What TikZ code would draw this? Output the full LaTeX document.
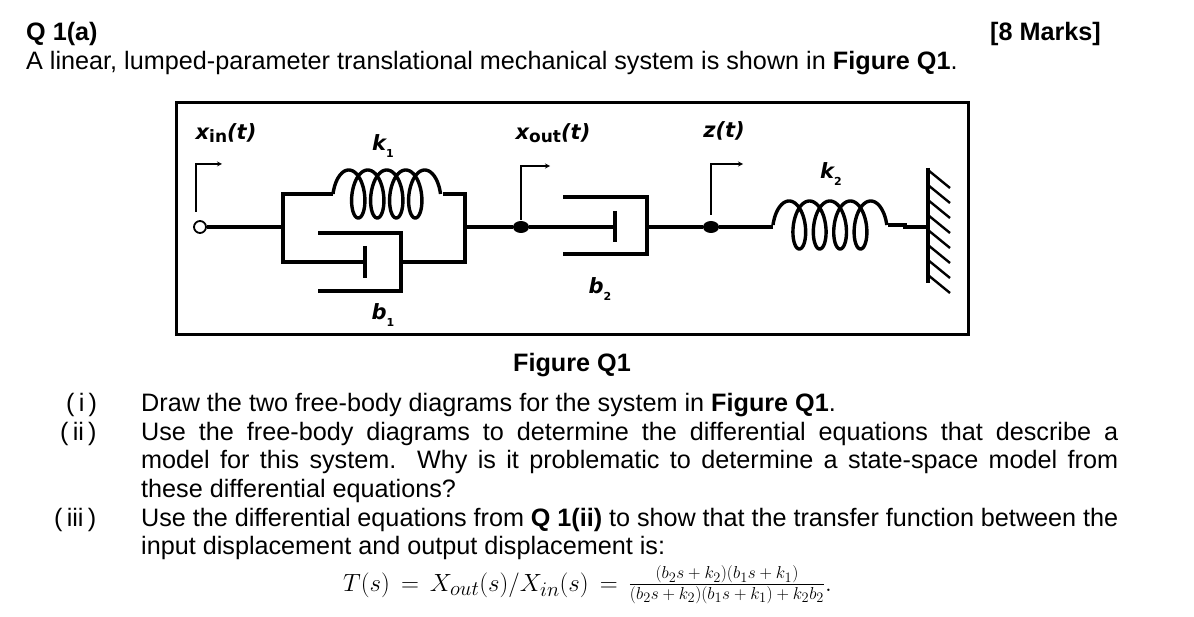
\documentclass[tikz,border=0pt]{standalone}
\usepackage{amsmath}
\usepackage{fontspec}
\usetikzlibrary{shapes.geometric}
\setmainfont{Liberation Sans}
\newfontfamily\lblfont{DejaVu Sans}
\begin{document}
\begin{tikzpicture}[x=1pt,y=-1pt,
  mech/.style={line width=3.4pt},
  thin/.style={line width=1.2pt},
  lbl/.style={font=\lblfont\bfseries\itshape\fontsize{21}{22}\selectfont,inner sep=0},
  txt/.style={font=\fontsize{25.2}{28.5}\selectfont,inner sep=0},
  par/.style={txt,text width=977pt,align=justify,anchor=north west}]
\useasboundingbox (0,0) rectangle (1194,617);
% texts
\node[txt,anchor=base west] (q) at (26,41) {\textbf{Q 1(a)}};
\node[txt,anchor=base east] (m) at (1101,41) {\textbf{[8 Marks]}};
\node[txt,anchor=base west] (intro) at (26,70) {A linear, lumped-parameter translational mechanical system is shown in \textbf{Figure Q1}.};
% box
\draw[line width=3pt] (176,103) rectangle (968,335);
% input
\node[circle,draw,line width=1.8pt,minimum size=12pt,inner sep=0,fill=white] (in) at (200,227) {};
\coordinate (b1L) at (283,227);
\draw[mech] (in) -- (b1L);
\draw[mech] (333,194) -- (283,194) -- (283,262) -- (365,262);
\draw[mech] (365,246) -- (365,278);
\draw[mech] (318,233) -- (401,233) -- (401,291) -- (318,291);
\draw[mech] (401,262) -- (465,262) -- (465,194) -- (443,194);
\draw[mech,line join=round] plot[domain=-90:1530,samples=300,smooth] ({333+11+0.05278*(\x+90)+11*sin(\x)},{194-24*cos(\x)});
\node[ellipse,fill,minimum width=16pt,minimum height=12pt,inner sep=0] (xo) at (521,227) {};
\draw[mech] (465,227) -- (xo) -- (615,227);
\draw[mech] (615,211) -- (615,242);
\draw[mech] (563,197) -- (647,197) -- (647,254) -- (563,254);
\node[ellipse,fill,minimum width=16pt,minimum height=12pt,inner sep=0] (z) at (711,227) {};
\draw[mech] (647,227) -- (z) -- (773,227);
\draw[mech,line join=round] plot[domain=-90:1530,samples=300,smooth] ({773+11+0.05667*(\x+90)+11*sin(\x)},{225-24*cos(\x)});
\draw[mech] (888,225) -- (905,225) -- (905,227) -- (928,227);
\draw[mech] (928,168) -- (928,283);
\foreach \i in {0,...,7} \draw[line width=2.4pt] (928,{170+\i*15}) -- ++(22,18);
% motion arrows
\draw[thin,-stealth] (196,212) -- (196,164) -- (222,164);
\draw[thin,-stealth] (521,220) -- (521,166) -- (550,166);
\draw[thin,-stealth] (711,215) -- (711,164) -- (743,164);
% labels
\node[lbl] (lxin) at (226,133) {x\raisebox{-3pt}{\upshape\fontsize{17}{17}\selectfont in}(t)};
\node[lbl] (lk1) at (383,146) {k\raisebox{-7pt}{\upshape\fontsize{11}{11}\selectfont 1}};
\node[lbl] (lxo) at (553,133) {x\raisebox{-3pt}{\upshape\fontsize{17}{17}\selectfont out}(t)};
\node[lbl] (lz) at (724,131) {z(t)};
\node[lbl] (lk2) at (831,174) {k\raisebox{-7pt}{\upshape\fontsize{11}{11}\selectfont 2}};
\node[lbl] (lb2) at (600,289) {b\raisebox{-7pt}{\upshape\fontsize{11}{11}\selectfont 2}};
\node[lbl] (lb1) at (383,315) {b\raisebox{-7pt}{\upshape\fontsize{11}{11}\selectfont 1}};
\node[txt,anchor=base] (fig) at (572,372) {\textbf{Figure Q1}};
% items
\node[txt,anchor=base west] (i1) at (66,411) {(\,i\,)};
\node[txt,anchor=base west] (i2) at (60,440) {(\,ii\,)};
\node[txt,anchor=base west] (i3) at (54,526) {(\,iii\,)};
\node[par] (p1) at (141,393) {Draw the two free-body diagrams for the system in \textbf{Figure Q1}.};
\node[par] (p2) at (141,422) {Use the free-body diagrams to determine the differential equations that describe a\linebreak model for this system.\ \ Why is it problematic to determine a state-space model from\linebreak these differential equations?};
\node[par] (p3) at (141,508) {Use the differential equations from \textbf{Q 1(ii)} to show that the transfer function between the\linebreak input displacement and output displacement is:};
\node[inner sep=0,anchor=base west,font=\fontsize{28}{30}\selectfont] (eq) at (343,591) {$T(s)\,=\,X_{out}(s)/X_{in}(s)\,=\,\frac{\text{\fontsize{19}{19}\selectfont$(b_2s+k_2)(b_1s+k_1)$}}{\text{\fontsize{19}{19}\selectfont$(b_2s+k_2)(b_1s+k_1)+k_2b_2$}}.$};
\end{tikzpicture}
\end{document}
